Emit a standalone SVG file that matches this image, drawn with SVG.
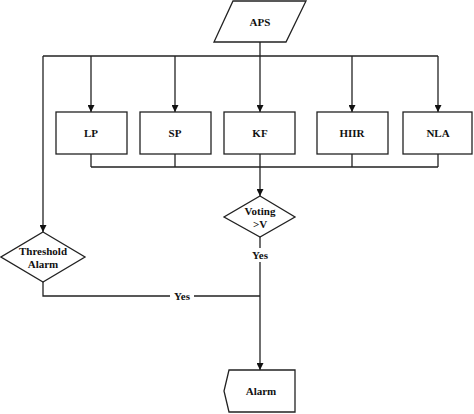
<svg xmlns="http://www.w3.org/2000/svg" width="474" height="414" viewBox="0 0 474 414">
<style>
.s{fill:#fff;stroke:#222;stroke-width:1.3}
.c{fill:none;stroke:#222;stroke-width:1.3}
text{font-family:"Liberation Serif","Times New Roman",serif;font-weight:bold;font-size:11px;fill:#111;text-anchor:middle;dominant-baseline:central}
</style>
<defs>
<marker id="a" viewBox="0 0 10 10" refX="10" refY="5" markerWidth="7" markerHeight="7" markerUnits="userSpaceOnUse" orient="auto">
<path d="M0,0 L10,5 L0,10 z" fill="#111"/>
</marker>
</defs>
<g id="connectors">
<path class="c" d="M260,42 V56"/>
<path class="c" d="M43,56 H438"/>
<path class="c" d="M91,56 V112" marker-end="url(#a)"/>
<path class="c" d="M175,56 V112" marker-end="url(#a)"/>
<path class="c" d="M260,56 V112" marker-end="url(#a)"/>
<path class="c" d="M352,56 V112" marker-end="url(#a)"/>
<path class="c" d="M438,56 V112" marker-end="url(#a)"/>
<path class="c" d="M43,56 V232" marker-end="url(#a)"/>
<path class="c" d="M91,154 V167 M175,154 V167 M260,154 V167 M352,154 V167 M438,154 V167 M91,167 H438"/>
<path class="c" d="M260,167 V196" marker-end="url(#a)"/>
<path class="c" d="M260,237 V370" marker-end="url(#a)"/>
<path class="c" d="M43,282 V296 H260"/>
<rect x="248" y="248" width="24" height="14" fill="#fff"/>
<text x="260" y="255">Yes</text>
<rect x="170" y="290" width="24" height="12" fill="#fff"/>
<text x="182" y="296">Yes</text>
</g>
<g id="aps">
<polygon class="s" points="233,1 306,1 286,42 214,42"/>
<text x="260" y="22">APS</text>
</g>
<g id="lp"><rect class="s" x="56" y="112" width="71" height="42"/><text x="91" y="133">LP</text></g>
<g id="sp"><rect class="s" x="140" y="112" width="71" height="42"/><text x="175" y="133">SP</text></g>
<g id="kf"><rect class="s" x="224" y="112" width="71" height="42"/><text x="260" y="133">KF</text></g>
<g id="hiir"><rect class="s" x="317" y="112" width="71" height="42"/><text x="352" y="133">HIIR</text></g>
<g id="nla"><rect class="s" x="403" y="112" width="69" height="42"/><text x="438" y="133">NLA</text></g>
<g id="voting">
<polygon class="s" points="260,196 295,217 260,237 224,217"/>
<text x="260" y="211">Voting</text>
<text x="260" y="224">&gt;V</text>
</g>
<g id="threshold">
<polygon class="s" points="43,232 85,257 43,282 1,257"/>
<text x="43" y="251">Threshold</text>
<text x="43" y="264">Alarm</text>
</g>
<g id="alarm">
<polygon class="s" points="229,370 295,370 295,412 229,412 224,391"/>
<text x="261" y="391">Alarm</text>
</g>
</svg>
